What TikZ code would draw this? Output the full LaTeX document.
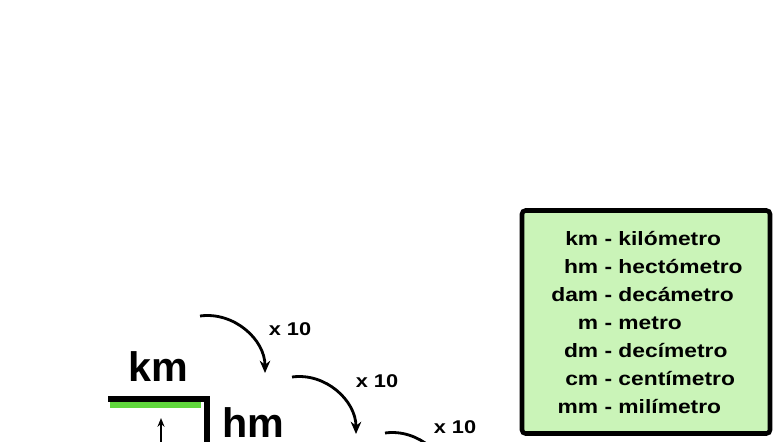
\documentclass[tikz,border=0pt]{standalone}
\usepackage{fontspec}
\setmainfont{Liberation Sans}
\newfontfamily\widefont{Liberation Sans}[FakeStretch=1.18]
\definecolor{unitgreen}{RGB}{96, 214, 60}
\definecolor{boxgreen}{RGB}{202, 244, 184}
\usetikzlibrary{arrows.meta, positioning}

\begin{document}
\begin{tikzpicture}[x=0.02cm, y=-0.02cm,
    unit/.style={font=\fontsize{23.5}{26}\selectfont\bfseries, inner sep=0pt},
    times/.style={font=\widefont\fontsize{10.5}{12}\selectfont\bfseries, inner sep=0pt},
    hop/.style={-{Stealth[length=7pt, width=6pt]}, line width=1.6pt}]
  \useasboundingbox (0,0) rectangle (784,441);

  % the stair
  \node[unit, anchor=base west] (km) at (128,381) {km};
  \node[unit, anchor=base west] (hm) at (222,437) {hm};
  \draw[unitgreen, line width=3pt] (110,405) -- (201,405);
  \draw[line width=3pt] (108,399) -- (207,399) -- (207,445);
  \coordinate (up0) at (161,445);
  \coordinate (up1) at (161,418);
  \draw[-{Stealth[length=5pt, width=4pt]}, line width=1.2pt] (up0) -- (up1);

  % x10 jumps
  \coordinate (s1) at (200,316); \coordinate (e1) at (265,373);
  \coordinate (s2) at (292,377); \coordinate (e2) at (356,434);
  \coordinate (s3) at (385,433); \coordinate (e3) at (449,490);
  \draw[hop] (s1) to[out=8, in=90] (e1);
  \draw[hop] (s2) to[out=8, in=90] (e2);
  \draw[hop] (s3) to[out=8, in=90] (e3);
  \node[times] (t1) at (290,329) {x 10};
  \node[times] (t2) at (377,381) {x 10};
  \node[times] (t3) at (455,427) {x 10};

  % legend
  \node[draw, line width=2.6pt, rounded corners=2pt, fill=boxgreen,
        minimum width=4.96cm, minimum height=4.46cm, inner sep=0pt] (legend) at (646,322) {};
  \node[font=\widefont\fontsize{11}{15.9}\selectfont\bfseries, inner sep=0pt] (names) at (647,324) {%
    \begin{tabular}{@{}r@{ - }l@{}}
      km & kilómetro\\
      hm & hectómetro\\
      dam & decámetro\\
      m & metro\\
      dm & decímetro\\
      cm & centímetro\\
      mm & milímetro
    \end{tabular}};
\end{tikzpicture}
\end{document}
